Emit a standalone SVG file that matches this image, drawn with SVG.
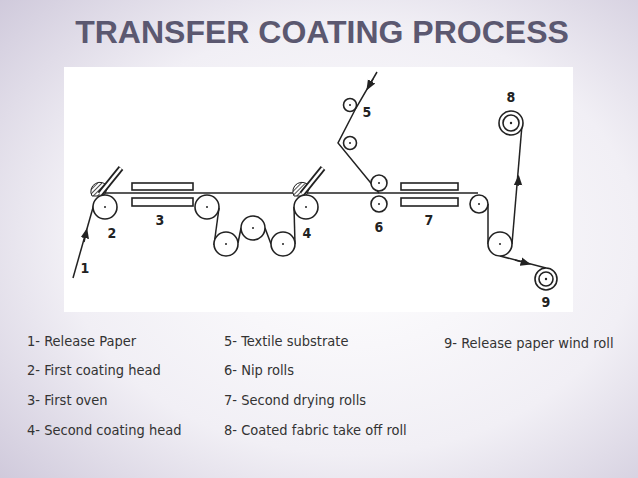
<svg xmlns="http://www.w3.org/2000/svg" width="638" height="478" viewBox="0 0 638 478">
<defs>
<radialGradient id="bg" cx="0.55" cy="0.5" r="0.75">
<stop offset="0" stop-color="#ffffff"/><stop offset="0.6" stop-color="#f1eff5"/><stop offset="1" stop-color="#cfc9db"/>
</radialGradient>
<pattern id="hatch" width="3" height="3" patternUnits="userSpaceOnUse" patternTransform="rotate(45)">
<rect width="3" height="3" fill="#fff"/><line x1="0" y1="0" x2="0" y2="3" stroke="#222" stroke-width="1.6"/>
</pattern>
<marker id="ar" viewBox="0 0 10 10" refX="5" refY="5" markerWidth="7" markerHeight="7" orient="auto"><path d="M0,1 L10,5 L0,9 z" fill="#222"/></marker>
</defs>
<style>
.l{fill:none;stroke:#222;stroke-width:1.5}
.r{fill:#fff;stroke:#222;stroke-width:1.6}
.d{fill:#222}
.n{font-family:"DejaVu Sans Condensed","DejaVu Sans",sans-serif;font-size:14px;font-weight:bold;fill:#222;text-anchor:middle}
.t{font-family:"DejaVu Sans Condensed","DejaVu Sans",sans-serif;font-size:14.5px;fill:#333}
</style>
<rect width="638" height="478" fill="url(#bg)"/>
<text x="322" y="43" font-family="Liberation Sans, Arial, sans-serif" font-weight="bold" font-size="32" fill="#5b5870" text-anchor="middle">TRANSFER COATING PROCESS</text>
<rect x="64" y="67" width="509" height="245" fill="#fff"/>
<g id="connectors">
<path class="l" d="M73,278 L94,204"/>
<line class="l" x1="84" y1="242" x2="86" y2="233" marker-end="url(#ar)"/>
<path class="l" d="M105,193 L478,193"/>
<path class="l" d="M219,208 L214,245"/>
<path class="l" d="M238,243 L241,228"/>
<path class="l" d="M265,228 L271,244"/>
<path class="l" d="M295,244 L294,207"/>
<path class="l" d="M377,72 L356,108 L338,143 L379,193"/>
<line class="l" x1="373" y1="79" x2="369" y2="86" marker-end="url(#ar)"/>
<path class="l" d="M488,204 L488,244"/>
<path class="l" d="M512,244 L522,125"/>
<line class="l" x1="518" y1="186" x2="518.4" y2="180" marker-end="url(#ar)"/>
<path class="l" d="M500,256 L546,268"/>
<line class="l" x1="515" y1="260" x2="526" y2="263" marker-end="url(#ar)"/>
</g>
<g id="node1"><text class="n" x="85" y="273">1</text></g>
<g id="node2">
<path d="M92,196 A9,9 0 0 1 108,187 L104,196 z" fill="url(#hatch)" stroke="#222" stroke-width="1"/>
<line x1="100" y1="194" x2="121" y2="168" stroke="#222" stroke-width="6"/>
<line x1="100" y1="194" x2="121" y2="168" stroke="#fff" stroke-width="2.5"/>
<circle class="r" cx="105" cy="207" r="12"/><circle class="d" cx="105" cy="207" r="1"/>
<text class="n" x="112" y="238">2</text>
</g>
<g id="node3">
<rect class="r" x="132" y="183" width="61" height="7"/>
<rect class="r" x="132" y="198" width="61" height="8"/>
<text class="n" x="160" y="225">3</text>
</g>
<g id="rollers1">
<circle class="r" cx="207" cy="207" r="12"/><circle class="d" cx="207" cy="207" r="1"/>
<circle class="r" cx="226" cy="244" r="12"/><circle class="d" cx="226" cy="244" r="1"/>
<circle class="r" cx="253" cy="228" r="12"/><circle class="d" cx="253" cy="228" r="1"/>
<circle class="r" cx="283" cy="244" r="12"/><circle class="d" cx="283" cy="244" r="1"/>
</g>
<g id="node4">
<path d="M294,196 A9,9 0 0 1 310,187 L306,196 z" fill="url(#hatch)" stroke="#222" stroke-width="1"/>
<line x1="302" y1="194" x2="323" y2="168" stroke="#222" stroke-width="6"/>
<line x1="302" y1="194" x2="323" y2="168" stroke="#fff" stroke-width="2.5"/>
<circle class="r" cx="306" cy="207" r="12"/><circle class="d" cx="306" cy="207" r="1"/>
<text class="n" x="307" y="238">4</text>
</g>
<g id="node5">
<circle class="r" cx="350" cy="105" r="6.5"/><circle class="d" cx="350" cy="105" r="1"/>
<circle class="r" cx="350" cy="143" r="6.5"/><circle class="d" cx="350" cy="143" r="1"/>
<text class="n" x="367" y="117">5</text>
</g>
<g id="node6">
<circle class="r" cx="379" cy="183" r="8"/><circle class="d" cx="379" cy="183" r="1"/>
<circle class="r" cx="379" cy="204" r="8"/><circle class="d" cx="379" cy="204" r="1"/>
<text class="n" x="379" y="232">6</text>
</g>
<g id="node7">
<rect class="r" x="401" y="183" width="57" height="7"/>
<rect class="r" x="401" y="198" width="57" height="8"/>
<text class="n" x="429" y="225">7</text>
</g>
<g id="rollers2">
<circle class="r" cx="479" cy="204" r="9"/><circle class="d" cx="479" cy="204" r="1"/>
<circle class="r" cx="500" cy="244" r="12"/><circle class="d" cx="500" cy="244" r="1"/>
</g>
<g id="node8">
<circle class="r" cx="511" cy="123" r="12"/><circle class="r" cx="511" cy="123" r="8"/><circle class="d" cx="511" cy="123" r="1.2"/>
<text class="n" x="511" y="102">8</text>
</g>
<g id="node9">
<circle class="r" cx="546" cy="279" r="11"/><circle class="r" cx="546" cy="279" r="7"/><circle class="d" cx="546" cy="279" r="1.2"/>
<text class="n" x="546" y="307">9</text>
</g>
<g id="legend">
<text class="t" x="27" y="346">1- Release Paper</text>
<text class="t" x="27" y="375">2- First coating head</text>
<text class="t" x="27" y="405">3- First oven</text>
<text class="t" x="27" y="435">4- Second coating head</text>
<text class="t" x="224" y="346">5- Textile substrate</text>
<text class="t" x="224" y="375">6- Nip rolls</text>
<text class="t" x="224" y="405">7- Second drying rolls</text>
<text class="t" x="224" y="435">8- Coated fabric take off roll</text>
<text class="t" x="444" y="348">9- Release paper wind roll</text>
</g>
</svg>
